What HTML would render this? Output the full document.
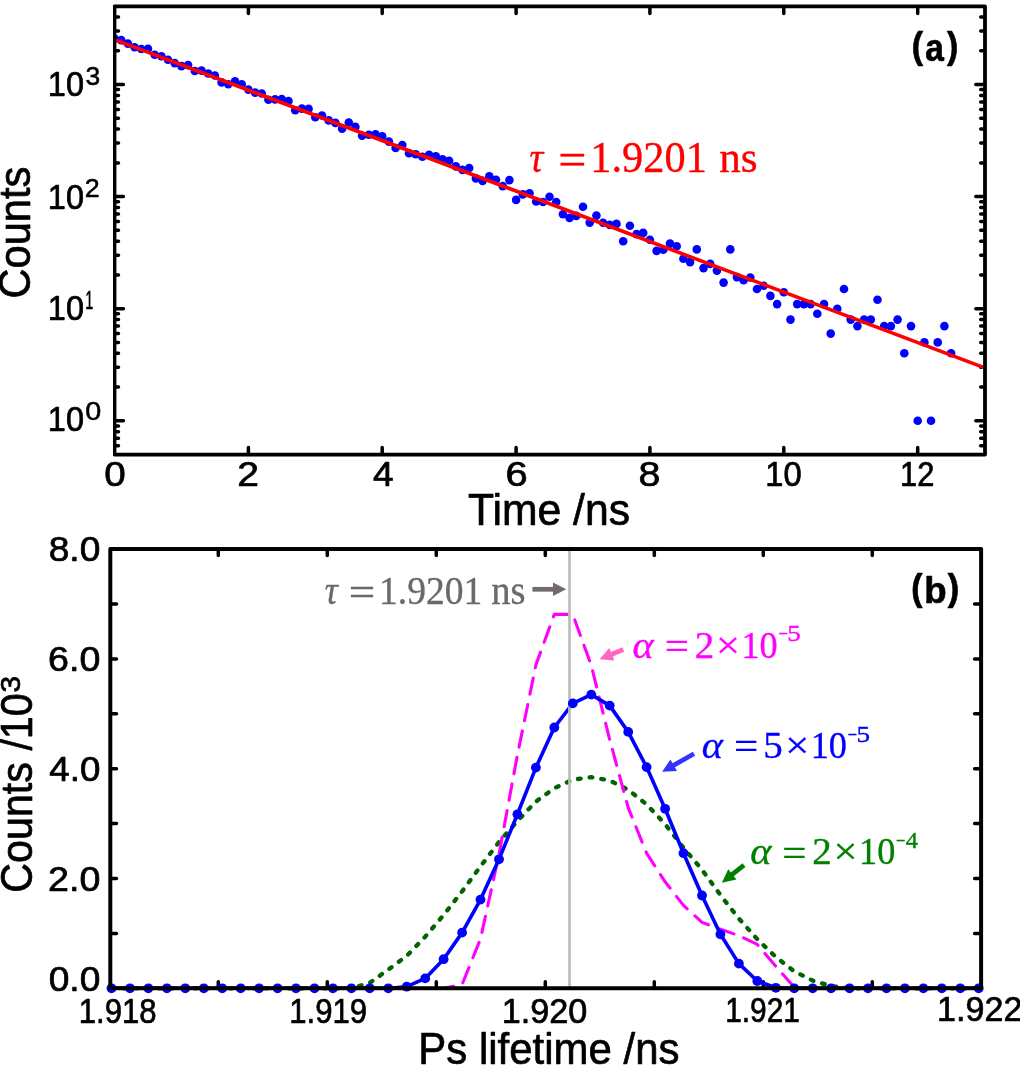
<!DOCTYPE html>
<html><head><meta charset="utf-8"><title>Ps lifetime</title>
<style>html,body{margin:0;padding:0;background:#fff}svg{display:block}</style></head>
<body>
<svg width="1020" height="1069" viewBox="0 0 1020 1069">
<rect width="1020" height="1069" fill="#fff"/>
<g id="panel-a">
<g stroke="#000" stroke-width="3.5" stroke-linecap="round" fill="none">
<path d="M116.0 445.7h2.5M983.2 445.7h-2.5"/>
<path d="M116.0 438.2h2.5M983.2 438.2h-2.5"/>
<path d="M116.0 431.7h2.5M983.2 431.7h-2.5"/>
<path d="M116.0 425.9h2.5M983.2 425.9h-2.5"/>
<path d="M116.0 420.8h7.4M983.2 420.8h-7.4"/>
<path d="M116.0 387.1h2.5M983.2 387.1h-2.5"/>
<path d="M116.0 367.3h2.5M983.2 367.3h-2.5"/>
<path d="M116.0 353.3h2.5M983.2 353.3h-2.5"/>
<path d="M116.0 342.4h2.5M983.2 342.4h-2.5"/>
<path d="M116.0 333.6h2.5M983.2 333.6h-2.5"/>
<path d="M116.0 326.1h2.5M983.2 326.1h-2.5"/>
<path d="M116.0 319.6h2.5M983.2 319.6h-2.5"/>
<path d="M116.0 313.8h2.5M983.2 313.8h-2.5"/>
<path d="M116.0 308.7h7.4M983.2 308.7h-7.4"/>
<path d="M116.0 275.0h2.5M983.2 275.0h-2.5"/>
<path d="M116.0 255.2h2.5M983.2 255.2h-2.5"/>
<path d="M116.0 241.2h2.5M983.2 241.2h-2.5"/>
<path d="M116.0 230.3h2.5M983.2 230.3h-2.5"/>
<path d="M116.0 221.5h2.5M983.2 221.5h-2.5"/>
<path d="M116.0 214.0h2.5M983.2 214.0h-2.5"/>
<path d="M116.0 207.5h2.5M983.2 207.5h-2.5"/>
<path d="M116.0 201.7h2.5M983.2 201.7h-2.5"/>
<path d="M116.0 196.6h7.4M983.2 196.6h-7.4"/>
<path d="M116.0 162.9h2.5M983.2 162.9h-2.5"/>
<path d="M116.0 143.1h2.5M983.2 143.1h-2.5"/>
<path d="M116.0 129.1h2.5M983.2 129.1h-2.5"/>
<path d="M116.0 118.2h2.5M983.2 118.2h-2.5"/>
<path d="M116.0 109.4h2.5M983.2 109.4h-2.5"/>
<path d="M116.0 101.9h2.5M983.2 101.9h-2.5"/>
<path d="M116.0 95.4h2.5M983.2 95.4h-2.5"/>
<path d="M116.0 89.6h2.5M983.2 89.6h-2.5"/>
<path d="M116.0 84.5h7.4M983.2 84.5h-7.4"/>
<path d="M116.0 50.8h2.5M983.2 50.8h-2.5"/>
<path d="M116.0 31.0h2.5M983.2 31.0h-2.5"/>
<path d="M116.0 17.0h2.5M983.2 17.0h-2.5"/>
<path d="M248.4 8.35v5.2M248.4 452.6v-5.2"/>
<path d="M382.2 8.35v5.2M382.2 452.6v-5.2"/>
<path d="M516.1 8.35v5.2M516.1 452.6v-5.2"/>
<path d="M649.9 8.35v5.2M649.9 452.6v-5.2"/>
<path d="M783.8 8.35v5.2M783.8 452.6v-5.2"/>
<path d="M917.7 8.35v5.2M917.7 452.6v-5.2"/>
</g>
<g fill="#0000ff">
<circle cx="114.5" cy="38.6" r="4.3"/>
<circle cx="121.2" cy="40.1" r="4.3"/>
<circle cx="127.9" cy="43.6" r="4.3"/>
<circle cx="134.6" cy="47.2" r="4.3"/>
<circle cx="141.3" cy="49.0" r="4.3"/>
<circle cx="148.0" cy="48.8" r="4.3"/>
<circle cx="154.7" cy="54.7" r="4.3"/>
<circle cx="161.4" cy="56.3" r="4.3"/>
<circle cx="168.0" cy="59.8" r="4.3"/>
<circle cx="174.7" cy="63.1" r="4.3"/>
<circle cx="181.4" cy="66.1" r="4.3"/>
<circle cx="188.1" cy="65.1" r="4.3"/>
<circle cx="194.8" cy="71.0" r="4.3"/>
<circle cx="201.5" cy="70.6" r="4.3"/>
<circle cx="208.2" cy="73.5" r="4.3"/>
<circle cx="214.9" cy="75.5" r="4.3"/>
<circle cx="221.6" cy="82.4" r="4.3"/>
<circle cx="228.3" cy="84.3" r="4.3"/>
<circle cx="235.0" cy="81.4" r="4.3"/>
<circle cx="241.7" cy="84.3" r="4.3"/>
<circle cx="248.4" cy="89.6" r="4.3"/>
<circle cx="255.1" cy="92.6" r="4.3"/>
<circle cx="261.7" cy="93.5" r="4.3"/>
<circle cx="268.4" cy="99.8" r="4.3"/>
<circle cx="275.1" cy="99.4" r="4.3"/>
<circle cx="281.8" cy="99.0" r="4.3"/>
<circle cx="288.5" cy="101.0" r="4.3"/>
<circle cx="295.2" cy="110.2" r="4.3"/>
<circle cx="301.9" cy="108.6" r="4.3"/>
<circle cx="308.6" cy="108.9" r="4.3"/>
<circle cx="315.3" cy="117.3" r="4.3"/>
<circle cx="322.0" cy="115.5" r="4.3"/>
<circle cx="328.7" cy="120.4" r="4.3"/>
<circle cx="335.4" cy="122.9" r="4.3"/>
<circle cx="342.1" cy="128.8" r="4.3"/>
<circle cx="348.8" cy="122.5" r="4.3"/>
<circle cx="355.4" cy="126.9" r="4.3"/>
<circle cx="362.1" cy="135.7" r="4.3"/>
<circle cx="368.8" cy="134.7" r="4.3"/>
<circle cx="375.5" cy="134.3" r="4.3"/>
<circle cx="382.2" cy="136.3" r="4.3"/>
<circle cx="388.9" cy="141.6" r="4.3"/>
<circle cx="395.6" cy="148.0" r="4.3"/>
<circle cx="402.3" cy="145.1" r="4.3"/>
<circle cx="409.0" cy="153.3" r="4.3"/>
<circle cx="415.7" cy="154.2" r="4.3"/>
<circle cx="422.4" cy="156.7" r="4.3"/>
<circle cx="429.1" cy="154.7" r="4.3"/>
<circle cx="435.8" cy="156.3" r="4.3"/>
<circle cx="442.5" cy="159.3" r="4.3"/>
<circle cx="449.1" cy="160.8" r="4.3"/>
<circle cx="455.8" cy="166.4" r="4.3"/>
<circle cx="462.5" cy="169.9" r="4.3"/>
<circle cx="469.2" cy="168.0" r="4.3"/>
<circle cx="475.9" cy="178.4" r="4.3"/>
<circle cx="482.6" cy="180.9" r="4.3"/>
<circle cx="489.3" cy="176.2" r="4.3"/>
<circle cx="496.0" cy="179.8" r="4.3"/>
<circle cx="502.7" cy="186.1" r="4.3"/>
<circle cx="509.4" cy="180.1" r="4.3"/>
<circle cx="516.1" cy="199.9" r="4.3"/>
<circle cx="522.8" cy="194.4" r="4.3"/>
<circle cx="529.5" cy="193.2" r="4.3"/>
<circle cx="536.2" cy="201.5" r="4.3"/>
<circle cx="542.9" cy="202.0" r="4.3"/>
<circle cx="549.5" cy="196.7" r="4.3"/>
<circle cx="556.2" cy="202.0" r="4.3"/>
<circle cx="562.9" cy="214.3" r="4.3"/>
<circle cx="569.6" cy="217.9" r="4.3"/>
<circle cx="576.3" cy="215.9" r="4.3"/>
<circle cx="583.0" cy="206.8" r="4.3"/>
<circle cx="589.7" cy="222.6" r="4.3"/>
<circle cx="596.4" cy="215.6" r="4.3"/>
<circle cx="603.1" cy="222.8" r="4.3"/>
<circle cx="609.8" cy="224.9" r="4.3"/>
<circle cx="616.5" cy="223.9" r="4.3"/>
<circle cx="623.2" cy="241.2" r="4.3"/>
<circle cx="629.9" cy="225.8" r="4.3"/>
<circle cx="636.6" cy="234.1" r="4.3"/>
<circle cx="643.2" cy="232.9" r="4.3"/>
<circle cx="649.9" cy="239.8" r="4.3"/>
<circle cx="656.6" cy="250.9" r="4.3"/>
<circle cx="663.3" cy="249.8" r="4.3"/>
<circle cx="670.0" cy="243.6" r="4.3"/>
<circle cx="676.7" cy="246.2" r="4.3"/>
<circle cx="683.4" cy="258.8" r="4.3"/>
<circle cx="690.1" cy="262.1" r="4.3"/>
<circle cx="696.8" cy="249.4" r="4.3"/>
<circle cx="703.5" cy="268.1" r="4.3"/>
<circle cx="710.2" cy="263.9" r="4.3"/>
<circle cx="716.9" cy="270.6" r="4.3"/>
<circle cx="723.6" cy="282.6" r="4.3"/>
<circle cx="730.3" cy="249.4" r="4.3"/>
<circle cx="736.9" cy="277.1" r="4.3"/>
<circle cx="743.6" cy="280.3" r="4.3"/>
<circle cx="750.3" cy="277.5" r="4.3"/>
<circle cx="757.0" cy="289.0" r="4.3"/>
<circle cx="763.7" cy="285.8" r="4.3"/>
<circle cx="770.4" cy="295.9" r="4.3"/>
<circle cx="777.1" cy="304.1" r="4.3"/>
<circle cx="783.8" cy="292.3" r="4.3"/>
<circle cx="790.5" cy="319.6" r="4.3"/>
<circle cx="797.2" cy="304.1" r="4.3"/>
<circle cx="803.9" cy="304.1" r="4.3"/>
<circle cx="810.6" cy="304.1" r="4.3"/>
<circle cx="817.3" cy="313.8" r="4.3"/>
<circle cx="824.0" cy="304.1" r="4.3"/>
<circle cx="830.7" cy="333.6" r="4.3"/>
<circle cx="837.3" cy="308.7" r="4.3"/>
<circle cx="844.0" cy="289.0" r="4.3"/>
<circle cx="850.7" cy="319.6" r="4.3"/>
<circle cx="857.4" cy="326.1" r="4.3"/>
<circle cx="864.1" cy="319.6" r="4.3"/>
<circle cx="870.8" cy="319.6" r="4.3"/>
<circle cx="877.5" cy="299.8" r="4.3"/>
<circle cx="884.2" cy="326.1" r="4.3"/>
<circle cx="890.9" cy="326.1" r="4.3"/>
<circle cx="897.6" cy="319.6" r="4.3"/>
<circle cx="904.3" cy="353.3" r="4.3"/>
<circle cx="911.0" cy="326.1" r="4.3"/>
<circle cx="917.7" cy="420.8" r="4.3"/>
<circle cx="924.4" cy="342.4" r="4.3"/>
<circle cx="931.0" cy="420.8" r="4.3"/>
<circle cx="937.7" cy="342.4" r="4.3"/>
<circle cx="944.4" cy="326.1" r="4.3"/>
<circle cx="951.1" cy="353.3" r="4.3"/>
</g>
<line x1="114.5" y1="39.6" x2="983.5" y2="367.4" stroke="#ff0000" stroke-width="3.6"/>
<path d="M114.5 6.35H985.0V454.6H114.5Z" fill="none" stroke="#000" stroke-width="3.8" stroke-linejoin="round"/>
<rect x="110" y="0" width="3" height="470" fill="#fff"/>
<text x="47.82" y="96.35" textLength="36.14" lengthAdjust="spacingAndGlyphs" font-family='"Liberation Sans", "DejaVu Sans", sans-serif' font-size="35.2" fill="#000" stroke="#000" stroke-width="0.7" stroke-linejoin="round">10</text>
<text x="85.42" y="85.25" textLength="14.70" lengthAdjust="spacingAndGlyphs" font-family='"Liberation Sans", "DejaVu Sans", sans-serif' font-size="25.7" fill="#000" stroke="#000" stroke-width="0.5" stroke-linejoin="round">3</text>
<text x="47.82" y="208.55" textLength="36.14" lengthAdjust="spacingAndGlyphs" font-family='"Liberation Sans", "DejaVu Sans", sans-serif' font-size="35.2" fill="#000" stroke="#000" stroke-width="0.7" stroke-linejoin="round">10</text>
<text x="84.89" y="197.15" textLength="14.95" lengthAdjust="spacingAndGlyphs" font-family='"Liberation Sans", "DejaVu Sans", sans-serif' font-size="25.7" fill="#000" stroke="#000" stroke-width="0.5" stroke-linejoin="round">2</text>
<text x="47.82" y="319.95" textLength="36.14" lengthAdjust="spacingAndGlyphs" font-family='"Liberation Sans", "DejaVu Sans", sans-serif' font-size="35.2" fill="#000" stroke="#000" stroke-width="0.7" stroke-linejoin="round">10</text>
<text x="85.24" y="308.85" textLength="8.10" lengthAdjust="spacingAndGlyphs" font-family='"Liberation Sans", "DejaVu Sans", sans-serif' font-size="25.7" fill="#000" stroke="#000" stroke-width="0.5" stroke-linejoin="round">1</text>
<text x="47.82" y="431.45" textLength="36.14" lengthAdjust="spacingAndGlyphs" font-family='"Liberation Sans", "DejaVu Sans", sans-serif' font-size="35.2" fill="#000" stroke="#000" stroke-width="0.7" stroke-linejoin="round">10</text>
<text x="85.25" y="420.45" textLength="16.02" lengthAdjust="spacingAndGlyphs" font-family='"Liberation Sans", "DejaVu Sans", sans-serif' font-size="25.7" fill="#000" stroke="#000" stroke-width="0.5" stroke-linejoin="round">0</text>
<text x="104.34" y="485.85" textLength="21.47" lengthAdjust="spacingAndGlyphs" font-family='"Liberation Sans", "DejaVu Sans", sans-serif' font-size="35.2" fill="#000" stroke="#000" stroke-width="0.7" stroke-linejoin="round">0</text>
<text x="237.32" y="485.85" textLength="21.71" lengthAdjust="spacingAndGlyphs" font-family='"Liberation Sans", "DejaVu Sans", sans-serif' font-size="35.2" fill="#000" stroke="#000" stroke-width="0.7" stroke-linejoin="round">2</text>
<text x="373.07" y="485.85" textLength="20.60" lengthAdjust="spacingAndGlyphs" font-family='"Liberation Sans", "DejaVu Sans", sans-serif' font-size="35.2" fill="#000" stroke="#000" stroke-width="0.7" stroke-linejoin="round">4</text>
<text x="505.58" y="485.85" textLength="22.19" lengthAdjust="spacingAndGlyphs" font-family='"Liberation Sans", "DejaVu Sans", sans-serif' font-size="35.2" fill="#000" stroke="#000" stroke-width="0.7" stroke-linejoin="round">6</text>
<text x="638.62" y="485.85" textLength="21.93" lengthAdjust="spacingAndGlyphs" font-family='"Liberation Sans", "DejaVu Sans", sans-serif' font-size="35.2" fill="#000" stroke="#000" stroke-width="0.7" stroke-linejoin="round">8</text>
<text x="765.31" y="485.85" textLength="36.36" lengthAdjust="spacingAndGlyphs" font-family='"Liberation Sans", "DejaVu Sans", sans-serif' font-size="35.2" fill="#000" stroke="#000" stroke-width="0.7" stroke-linejoin="round">10</text>
<text x="900.12" y="485.85" textLength="34.27" lengthAdjust="spacingAndGlyphs" font-family='"Liberation Sans", "DejaVu Sans", sans-serif' font-size="35.2" fill="#000" stroke="#000" stroke-width="0.7" stroke-linejoin="round">12</text>
<text x="467.98" y="525.25" textLength="162.10" lengthAdjust="spacingAndGlyphs" font-family='"Liberation Sans", "DejaVu Sans", sans-serif' font-size="44" fill="#000" stroke="#000" stroke-width="0.7" stroke-linejoin="round">Time /ns</text>
<text transform="translate(30.35 296.65) rotate(-90)" x="-1.95" y="0" textLength="131.95" lengthAdjust="spacingAndGlyphs" font-family='"Liberation Sans", "DejaVu Sans", sans-serif' font-size="44" fill="#000" stroke="#000" stroke-width="0.7" stroke-linejoin="round">Counts</text>
<text x="911.86" y="57.95" textLength="11.33" lengthAdjust="spacingAndGlyphs" font-family='"Liberation Sans", "DejaVu Sans", sans-serif' font-size="36.4" fill="#000" stroke="#000" stroke-width="0.7" stroke-linejoin="round" font-weight="bold">(</text>
<text x="925.33" y="61.05" textLength="18.61" lengthAdjust="spacingAndGlyphs" font-family='"Liberation Sans", "DejaVu Sans", sans-serif' font-size="39" fill="#000" stroke="#000" stroke-width="0.7" stroke-linejoin="round" font-weight="bold">a</text>
<text x="947.05" y="57.95" textLength="11.22" lengthAdjust="spacingAndGlyphs" font-family='"Liberation Sans", "DejaVu Sans", sans-serif' font-size="36.4" fill="#000" stroke="#000" stroke-width="0.7" stroke-linejoin="round" font-weight="bold">)</text>
<text x="529.38" y="172.42" textLength="13.70" lengthAdjust="spacingAndGlyphs" font-family='"Liberation Serif", "DejaVu Serif", serif' font-size="44" fill="#ff0000" stroke="#ff0000" stroke-width="0.35" stroke-linejoin="round" font-style="italic">τ</text>
<text x="558.23" y="174.32" textLength="28.21" lengthAdjust="spacingAndGlyphs" font-family='"Liberation Serif", "DejaVu Serif", serif' font-size="44" fill="#ff0000" stroke="#ff0000" stroke-width="0.35" stroke-linejoin="round">=</text>
<text x="590.37" y="172.42" textLength="116.44" lengthAdjust="spacingAndGlyphs" font-family='"Liberation Serif", "DejaVu Serif", serif' font-size="44" fill="#ff0000" stroke="#ff0000" stroke-width="0.35" stroke-linejoin="round">1.9201</text>
<text x="719.30" y="172.42" textLength="38.31" lengthAdjust="spacingAndGlyphs" font-family='"Liberation Serif", "DejaVu Serif", serif' font-size="44" fill="#ff0000" stroke="#ff0000" stroke-width="0.35" stroke-linejoin="round">ns</text>
</g>
<g id="panel-b">
<g stroke="#000" stroke-width="3.5" stroke-linecap="round" fill="none">
<path d="M112 933.4h4.5M979.1 933.4h-4.5"/>
<path d="M112 878.5h4.5M979.1 878.5h-4.5"/>
<path d="M112 823.6h4.5M979.1 823.6h-4.5"/>
<path d="M112 768.7h4.5M979.1 768.7h-4.5"/>
<path d="M112 713.8h4.5M979.1 713.8h-4.5"/>
<path d="M112 658.9h4.5M979.1 658.9h-4.5"/>
<path d="M112 604.0h4.5M979.1 604.0h-4.5"/>
<path d="M218.3 551.1v4.5M218.3 986.3v-4.5"/>
<path d="M327.3 551.1v4.5M327.3 986.3v-4.5"/>
<path d="M436.3 551.1v4.5M436.3 986.3v-4.5"/>
<path d="M545.3 551.1v4.5M545.3 986.3v-4.5"/>
<path d="M654.3 551.1v4.5M654.3 986.3v-4.5"/>
<path d="M763.3 551.1v4.5M763.3 986.3v-4.5"/>
<path d="M872.3 551.1v4.5M872.3 986.3v-4.5"/>
</g>
<polyline points="111.5,988.3 130.0,988.3 148.4,988.3 166.9,988.3 185.3,988.3 203.8,988.3 222.2,988.3 240.7,988.3 259.1,988.3 277.6,988.3 296.0,988.3 314.5,988.3 332.9,988.3 351.4,988.3 369.8,982.8 388.3,969.6 406.7,955.9 425.2,936.7 443.6,915.0 462.1,891.4 480.5,866.4 499.0,842.0 517.4,821.1 535.9,801.6 554.3,788.2 572.8,779.7 591.3,777.2 609.7,780.5 628.2,789.8 646.6,804.4 665.1,824.1 683.5,847.8 702.0,869.7 720.4,895.0 738.9,918.6 757.3,939.2 775.8,957.0 794.2,971.3 812.7,980.6 831.1,986.1 849.6,988.3 868.0,988.3 886.5,988.3 904.9,988.3 923.4,988.3 941.8,988.3 960.3,988.3 978.7,988.3" fill="none" stroke="#006400" stroke-width="4.3" stroke-dasharray="2.7 9.1" stroke-linecap="round" stroke-linejoin="round"/>
<polyline points="111.5,988.3 130.0,988.3 148.4,988.3 166.9,988.3 185.3,988.3 203.8,988.3 222.2,988.3 240.7,988.3 259.1,988.3 277.6,988.3 296.0,988.3 314.5,988.3 332.9,988.3 351.4,988.3 369.8,988.3 388.3,988.3 406.7,988.3 425.2,988.3 443.6,988.3 462.1,984.5 480.5,938.9 499.0,854.3 517.4,755.0 535.9,664.9 554.3,614.4 572.8,614.4 591.3,665.5 609.7,739.6 628.2,807.7 646.6,853.2 665.1,881.8 683.5,905.4 702.0,922.4 720.4,929.2 738.9,935.6 757.3,944.4 775.8,966.3 794.2,987.2 812.7,988.3 831.1,988.3 849.6,988.3 868.0,988.3 886.5,988.3 904.9,988.3 923.4,988.3 941.8,988.3 960.3,988.3 978.7,988.3" fill="none" stroke="#ff00ff" stroke-width="3.1" stroke-dasharray="16.5 10.5" stroke-dashoffset="25.17" stroke-linecap="round" stroke-linejoin="round"/>
<polyline points="111.5,988.3 130.0,988.3 148.4,988.3 166.9,988.3 185.3,988.3 203.8,988.3 222.2,988.3 240.7,988.3 259.1,988.3 277.6,988.3 296.0,988.3 314.5,988.3 332.9,988.3 351.4,988.3 369.8,988.3 388.3,988.3 406.7,986.7 425.2,978.4 443.6,959.2 462.1,932.6 480.5,899.6 499.0,859.3 517.4,814.3 535.9,767.6 554.3,727.5 572.8,703.4 591.3,694.6 609.7,705.6 628.2,731.9 646.6,767.1 665.1,808.8 683.5,853.2 702.0,895.5 720.4,934.3 738.9,963.6 757.3,981.0 775.8,987.8 794.2,988.3 812.7,988.3 831.1,988.3 849.6,988.3 868.0,988.3 886.5,988.3 904.9,988.3 923.4,988.3 941.8,988.3 960.3,988.3 978.7,988.3" fill="none" stroke="#0000ff" stroke-width="3.6" stroke-linejoin="round"/>
<line x1="569.5" y1="549.1" x2="569.5" y2="988.3" stroke="#bcbcbc" stroke-width="2.7"/>
<g fill="#0000ff">
<circle cx="111.5" cy="988.3" r="4.9"/>
<circle cx="130.0" cy="988.3" r="4.9"/>
<circle cx="148.4" cy="988.3" r="4.9"/>
<circle cx="166.9" cy="988.3" r="4.9"/>
<circle cx="185.3" cy="988.3" r="4.9"/>
<circle cx="203.8" cy="988.3" r="4.9"/>
<circle cx="222.2" cy="988.3" r="4.9"/>
<circle cx="240.7" cy="988.3" r="4.9"/>
<circle cx="259.1" cy="988.3" r="4.9"/>
<circle cx="277.6" cy="988.3" r="4.9"/>
<circle cx="296.0" cy="988.3" r="4.9"/>
<circle cx="314.5" cy="988.3" r="4.9"/>
<circle cx="332.9" cy="988.3" r="4.9"/>
<circle cx="351.4" cy="988.3" r="4.9"/>
<circle cx="369.8" cy="988.3" r="4.9"/>
<circle cx="388.3" cy="988.3" r="4.9"/>
<circle cx="406.7" cy="986.7" r="4.9"/>
<circle cx="425.2" cy="978.4" r="4.9"/>
<circle cx="443.6" cy="959.2" r="4.9"/>
<circle cx="462.1" cy="932.6" r="4.9"/>
<circle cx="480.5" cy="899.6" r="4.9"/>
<circle cx="499.0" cy="859.3" r="4.9"/>
<circle cx="517.4" cy="814.3" r="4.9"/>
<circle cx="535.9" cy="767.6" r="4.9"/>
<circle cx="554.3" cy="727.5" r="4.9"/>
<circle cx="572.8" cy="703.4" r="4.9"/>
<circle cx="591.3" cy="694.6" r="4.9"/>
<circle cx="609.7" cy="705.6" r="4.9"/>
<circle cx="628.2" cy="731.9" r="4.9"/>
<circle cx="646.6" cy="767.1" r="4.9"/>
<circle cx="665.1" cy="808.8" r="4.9"/>
<circle cx="683.5" cy="853.2" r="4.9"/>
<circle cx="702.0" cy="895.5" r="4.9"/>
<circle cx="720.4" cy="934.3" r="4.9"/>
<circle cx="738.9" cy="963.6" r="4.9"/>
<circle cx="757.3" cy="981.0" r="4.9"/>
<circle cx="775.8" cy="987.8" r="4.9"/>
<circle cx="794.2" cy="988.3" r="4.9"/>
<circle cx="812.7" cy="988.3" r="4.9"/>
<circle cx="831.1" cy="988.3" r="4.9"/>
<circle cx="849.6" cy="988.3" r="4.9"/>
<circle cx="868.0" cy="988.3" r="4.9"/>
<circle cx="886.5" cy="988.3" r="4.9"/>
<circle cx="904.9" cy="988.3" r="4.9"/>
<circle cx="923.4" cy="988.3" r="4.9"/>
<circle cx="941.8" cy="988.3" r="4.9"/>
<circle cx="960.3" cy="988.3" r="4.9"/>
<circle cx="978.7" cy="988.3" r="4.9"/>
</g>
<path d="M110.3 549.1H981.1V988.3H110.3Z" fill="none" stroke="#000" stroke-width="4" stroke-linejoin="round"/>
<text x="48.69" y="991.35" textLength="51.69" lengthAdjust="spacingAndGlyphs" font-family='"Liberation Sans", "DejaVu Sans", sans-serif' font-size="35.2" fill="#000" stroke="#000" stroke-width="0.7" stroke-linejoin="round">0.0</text>
<text x="48.09" y="890.75" textLength="52.30" lengthAdjust="spacingAndGlyphs" font-family='"Liberation Sans", "DejaVu Sans", sans-serif' font-size="35.2" fill="#000" stroke="#000" stroke-width="0.7" stroke-linejoin="round">2.0</text>
<text x="49.28" y="780.95" textLength="51.09" lengthAdjust="spacingAndGlyphs" font-family='"Liberation Sans", "DejaVu Sans", sans-serif' font-size="35.2" fill="#000" stroke="#000" stroke-width="0.7" stroke-linejoin="round">4.0</text>
<text x="48.09" y="671.15" textLength="52.30" lengthAdjust="spacingAndGlyphs" font-family='"Liberation Sans", "DejaVu Sans", sans-serif' font-size="35.2" fill="#000" stroke="#000" stroke-width="0.7" stroke-linejoin="round">6.0</text>
<text x="48.69" y="561.35" textLength="51.69" lengthAdjust="spacingAndGlyphs" font-family='"Liberation Sans", "DejaVu Sans", sans-serif' font-size="35.2" fill="#000" stroke="#000" stroke-width="0.7" stroke-linejoin="round">8.0</text>
<text x="78.71" y="1022.85" textLength="77.80" lengthAdjust="spacingAndGlyphs" font-family='"Liberation Sans", "DejaVu Sans", sans-serif' font-size="35.2" fill="#000" stroke="#000" stroke-width="0.7" stroke-linejoin="round">1.918</text>
<text x="289.21" y="1022.85" textLength="77.80" lengthAdjust="spacingAndGlyphs" font-family='"Liberation Sans", "DejaVu Sans", sans-serif' font-size="35.2" fill="#000" stroke="#000" stroke-width="0.7" stroke-linejoin="round">1.919</text>
<text x="501.81" y="1022.75" textLength="85.59" lengthAdjust="spacingAndGlyphs" font-family='"Liberation Sans", "DejaVu Sans", sans-serif' font-size="35.2" fill="#000" stroke="#000" stroke-width="0.7" stroke-linejoin="round">1.920</text>
<text x="725.18" y="1021.55" textLength="74.67" lengthAdjust="spacingAndGlyphs" font-family='"Liberation Sans", "DejaVu Sans", sans-serif' font-size="35.2" fill="#000" stroke="#000" stroke-width="0.7" stroke-linejoin="round">1.921</text>
<text x="937.12" y="1021.35" textLength="85.21" lengthAdjust="spacingAndGlyphs" font-family='"Liberation Sans", "DejaVu Sans", sans-serif' font-size="35.2" fill="#000" stroke="#000" stroke-width="0.7" stroke-linejoin="round">1.922</text>
<text x="418.37" y="1064.05" textLength="261.09" lengthAdjust="spacingAndGlyphs" font-family='"Liberation Sans", "DejaVu Sans", sans-serif' font-size="44" fill="#000" stroke="#000" stroke-width="0.7" stroke-linejoin="round">Ps lifetime /ns</text>
<text transform="translate(31.65 890.75) rotate(-90)" x="-1.93" y="0" textLength="199.36" lengthAdjust="spacingAndGlyphs" font-family='"Liberation Sans", "DejaVu Sans", sans-serif' font-size="44" fill="#000" stroke="#000" stroke-width="0.7" stroke-linejoin="round">Counts /10</text>
<text transform="translate(20.45 691.65) rotate(-90)" x="-0.93" y="0" textLength="16.53" lengthAdjust="spacingAndGlyphs" font-family='"Liberation Sans", "DejaVu Sans", sans-serif' font-size="28" fill="#000" stroke="#000" stroke-width="0.7" stroke-linejoin="round">3</text>
<text x="911.37" y="600.15" textLength="11.22" lengthAdjust="spacingAndGlyphs" font-family='"Liberation Sans", "DejaVu Sans", sans-serif' font-size="36.4" fill="#000" stroke="#000" stroke-width="0.7" stroke-linejoin="round" font-weight="bold">(</text>
<text x="924.16" y="602.55" textLength="22.39" lengthAdjust="spacingAndGlyphs" font-family='"Liberation Sans", "DejaVu Sans", sans-serif' font-size="37.8" fill="#000" stroke="#000" stroke-width="0.7" stroke-linejoin="round" font-weight="bold">b</text>
<text x="947.85" y="600.15" textLength="11.44" lengthAdjust="spacingAndGlyphs" font-family='"Liberation Sans", "DejaVu Sans", sans-serif' font-size="36.4" fill="#000" stroke="#000" stroke-width="0.7" stroke-linejoin="round" font-weight="bold">)</text>
<text x="324.81" y="604.43" textLength="13.03" lengthAdjust="spacingAndGlyphs" font-family='"Liberation Serif", "DejaVu Serif", serif' font-size="39.5" fill="#6e6868" stroke="#6e6868" stroke-width="0.35" stroke-linejoin="round" font-style="italic">τ</text>
<text x="348.67" y="606.12" textLength="26.53" lengthAdjust="spacingAndGlyphs" font-family='"Liberation Serif", "DejaVu Serif", serif' font-size="39.5" fill="#6e6868" stroke="#6e6868" stroke-width="0.35" stroke-linejoin="round">=</text>
<text x="379.04" y="604.43" textLength="103.24" lengthAdjust="spacingAndGlyphs" font-family='"Liberation Serif", "DejaVu Serif", serif' font-size="39.5" fill="#6e6868" stroke="#6e6868" stroke-width="0.35" stroke-linejoin="round">1.9201</text>
<text x="491.17" y="604.43" textLength="34.30" lengthAdjust="spacingAndGlyphs" font-family='"Liberation Serif", "DejaVu Serif", serif' font-size="39.5" fill="#6e6868" stroke="#6e6868" stroke-width="0.35" stroke-linejoin="round">ns</text>
<line x1="532.4" y1="589.3" x2="555.0" y2="589.3" stroke="#746c6c" stroke-width="4.7"/>
<polygon points="566.3,589.3 553.0,595.9 553.0,582.6" fill="#746c6c"/>
<text x="632.64" y="657.62" textLength="21.19" lengthAdjust="spacingAndGlyphs" font-family='"Liberation Serif", "DejaVu Serif", serif' font-size="37" fill="#ff00ff" stroke="#ff00ff" stroke-width="0.35" stroke-linejoin="round" font-style="italic">α</text>
<text x="664.76" y="659.23" textLength="24.24" lengthAdjust="spacingAndGlyphs" font-family='"Liberation Serif", "DejaVu Serif", serif' font-size="37" fill="#ff00ff" stroke="#ff00ff" stroke-width="0.35" stroke-linejoin="round">=</text>
<text x="694.76" y="657.62" textLength="19.50" lengthAdjust="spacingAndGlyphs" font-family='"Liberation Serif", "DejaVu Serif", serif' font-size="37" fill="#ff00ff" stroke="#ff00ff" stroke-width="0.35" stroke-linejoin="round">2</text>
<text x="715.95" y="657.62" textLength="24.00" lengthAdjust="spacingAndGlyphs" font-family='"Liberation Serif", "DejaVu Serif", serif' font-size="37" fill="#ff00ff" stroke="#ff00ff" stroke-width="0.35" stroke-linejoin="round">×</text>
<text x="741.45" y="657.62" textLength="36.21" lengthAdjust="spacingAndGlyphs" font-family='"Liberation Serif", "DejaVu Serif", serif' font-size="37" fill="#ff00ff" stroke="#ff00ff" stroke-width="0.35" stroke-linejoin="round">10</text>
<text x="778.49" y="641.42" textLength="9.44" lengthAdjust="spacingAndGlyphs" font-family='"Liberation Serif", "DejaVu Serif", serif' font-size="22.5" fill="#ff00ff" stroke="#ff00ff" stroke-width="0.35" stroke-linejoin="round">−</text>
<text x="787.20" y="641.42" textLength="13.57" lengthAdjust="spacingAndGlyphs" font-family='"Liberation Serif", "DejaVu Serif", serif' font-size="22.5" fill="#ff00ff" stroke="#ff00ff" stroke-width="0.35" stroke-linejoin="round">5</text>
<text x="701.84" y="757.73" textLength="21.19" lengthAdjust="spacingAndGlyphs" font-family='"Liberation Serif", "DejaVu Serif", serif' font-size="37" fill="#0000ff" stroke="#0000ff" stroke-width="0.35" stroke-linejoin="round" font-style="italic">α</text>
<text x="733.96" y="759.33" textLength="24.24" lengthAdjust="spacingAndGlyphs" font-family='"Liberation Serif", "DejaVu Serif", serif' font-size="37" fill="#0000ff" stroke="#0000ff" stroke-width="0.35" stroke-linejoin="round">=</text>
<text x="763.35" y="757.73" textLength="19.50" lengthAdjust="spacingAndGlyphs" font-family='"Liberation Serif", "DejaVu Serif", serif' font-size="37" fill="#0000ff" stroke="#0000ff" stroke-width="0.35" stroke-linejoin="round">5</text>
<text x="785.15" y="757.73" textLength="24.00" lengthAdjust="spacingAndGlyphs" font-family='"Liberation Serif", "DejaVu Serif", serif' font-size="37" fill="#0000ff" stroke="#0000ff" stroke-width="0.35" stroke-linejoin="round">×</text>
<text x="810.65" y="757.73" textLength="36.21" lengthAdjust="spacingAndGlyphs" font-family='"Liberation Serif", "DejaVu Serif", serif' font-size="37" fill="#0000ff" stroke="#0000ff" stroke-width="0.35" stroke-linejoin="round">10</text>
<text x="847.69" y="741.52" textLength="9.44" lengthAdjust="spacingAndGlyphs" font-family='"Liberation Serif", "DejaVu Serif", serif' font-size="22.5" fill="#0000ff" stroke="#0000ff" stroke-width="0.35" stroke-linejoin="round">−</text>
<text x="856.40" y="741.52" textLength="13.57" lengthAdjust="spacingAndGlyphs" font-family='"Liberation Serif", "DejaVu Serif", serif' font-size="22.5" fill="#0000ff" stroke="#0000ff" stroke-width="0.35" stroke-linejoin="round">5</text>
<text x="750.24" y="864.12" textLength="21.19" lengthAdjust="spacingAndGlyphs" font-family='"Liberation Serif", "DejaVu Serif", serif' font-size="37" fill="#008000" stroke="#008000" stroke-width="0.35" stroke-linejoin="round" font-style="italic">α</text>
<text x="782.36" y="865.73" textLength="24.24" lengthAdjust="spacingAndGlyphs" font-family='"Liberation Serif", "DejaVu Serif", serif' font-size="37" fill="#008000" stroke="#008000" stroke-width="0.35" stroke-linejoin="round">=</text>
<text x="812.36" y="864.12" textLength="19.50" lengthAdjust="spacingAndGlyphs" font-family='"Liberation Serif", "DejaVu Serif", serif' font-size="37" fill="#008000" stroke="#008000" stroke-width="0.35" stroke-linejoin="round">2</text>
<text x="833.55" y="864.12" textLength="24.00" lengthAdjust="spacingAndGlyphs" font-family='"Liberation Serif", "DejaVu Serif", serif' font-size="37" fill="#008000" stroke="#008000" stroke-width="0.35" stroke-linejoin="round">×</text>
<text x="859.05" y="864.12" textLength="36.21" lengthAdjust="spacingAndGlyphs" font-family='"Liberation Serif", "DejaVu Serif", serif' font-size="37" fill="#008000" stroke="#008000" stroke-width="0.35" stroke-linejoin="round">10</text>
<text x="896.09" y="847.92" textLength="9.44" lengthAdjust="spacingAndGlyphs" font-family='"Liberation Serif", "DejaVu Serif", serif' font-size="22.5" fill="#008000" stroke="#008000" stroke-width="0.35" stroke-linejoin="round">−</text>
<text x="905.69" y="847.92" textLength="12.21" lengthAdjust="spacingAndGlyphs" font-family='"Liberation Serif", "DejaVu Serif", serif' font-size="22.5" fill="#008000" stroke="#008000" stroke-width="0.35" stroke-linejoin="round">4</text>
<line x1="623.3" y1="649.5" x2="610.0" y2="655.0" stroke="#ff66c4" stroke-width="4.7"/>
<polygon points="599.6,659.3 609.3,648.1 614.4,660.4" fill="#ff66c4"/>
<line x1="694.0" y1="753.8" x2="672.0" y2="766.2" stroke="#3333ff" stroke-width="4.7"/>
<polygon points="662.1,771.7 670.4,759.4 677.0,771.0" fill="#3333ff"/>
<line x1="744.0" y1="865.1" x2="730.7" y2="875.7" stroke="#008000" stroke-width="4.7"/>
<polygon points="721.9,882.7 728.2,869.2 736.4,879.6" fill="#008000"/>
</g>
</svg>
</body></html>
